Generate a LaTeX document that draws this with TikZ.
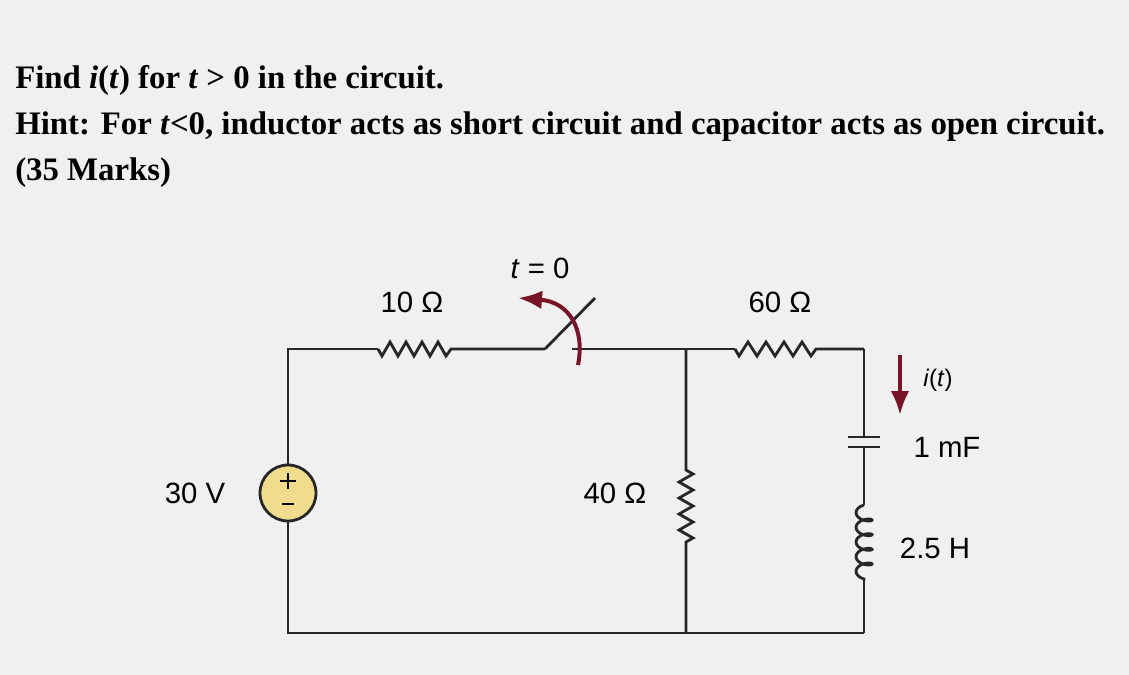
\documentclass[tikz,border=0pt]{standalone}
\usepackage{fontspec}
\setmainfont{Liberation Serif}
\setsansfont{Liberation Sans}
\usetikzlibrary{decorations.pathmorphing,arrows.meta}
\begin{document}
\begin{tikzpicture}[x=0.75pt,y=-0.75pt,
  wire/.style={line width=2.1pt,black!85},
  lbl/.style={font=\sffamily\fontsize{22}{24}\selectfont,inner sep=0pt},
  txt/.style={font=\fontsize{24.6}{28}\selectfont,anchor=west,inner sep=0pt},
  red arrow/.style={line width=3pt,color={rgb,255:red,120;green,20;blue,40},-{Latex[length=18pt,width=14pt]}}]
\fill[gray!12] (0,0) rectangle (1129,675);
\useasboundingbox (0,0) rectangle (1129,675);
\node[txt] (l1) at (15,80) {\textbf{Find} \textbf{\textit{i}(\textit{t}) for \textit{t} > 0 in the circuit.}};
\node[txt] (l2) at (15,127) {\textbf{Hint: For \textit{t}<0, inductor acts as short circuit and capacitor acts as open circuit.}};
\node[txt] (l3) at (15,173) {\textbf{(35 Marks)}};
\coordinate (tl) at (288,349);
\coordinate (bl) at (288,633);
\coordinate (r1a) at (378,349);
\coordinate (r1b) at (455,349);
\coordinate (swa) at (545,349);
\coordinate (swb) at (572,349);
\coordinate (nd) at (686,349);
\coordinate (r2a) at (735,349);
\coordinate (r2b) at (825,349);
\coordinate (tr) at (864,349);
\coordinate (br) at (864,633);
\coordinate (bm) at (686,633);
\node[circle,draw=black!85,line width=2.1pt,fill={rgb,255:red,240;green,220;blue,140},minimum size=42pt,inner sep=0pt] (src) at (288,493) {};
\draw[line width=1.8pt] (280,481) -- (296,481) (288,473) -- (288,489) (282,504) -- (294,504);
\draw[wire] (src.north) -- (tl) -- (r1a);
\draw[wire] (src.south) -- (bl) -- (br);
\draw[wire] (r1a) -- ++(4,7) -- ++(8,-14) -- ++(8,14) -- ++(8,-14) -- ++(8,14) -- ++(8,-14) -- ++(8,14) -- ++(8,-14) -- ++(8,14) -- ++(5,-7) -- (r1b) -- (swa);
\draw[wire] (swa) -- (595,298);
\draw[wire] (swb) -- (nd) -- (r2a);
\draw[wire] (r2a) -- ++(4,7) -- ++(9,-14) -- ++(9,14) -- ++(9,-14) -- ++(9,14) -- ++(9,-14) -- ++(9,14) -- ++(9,-14) -- ++(9,14) -- ++(5,-7) -- (r2b) -- (tr);
\draw[red arrow] (578,365) .. controls (585,330) and (570,302) .. (518,298);
\node[lbl] (t0) at (540,268) {\textit{t} = 0};
\node[lbl] (r1l) at (412,302) {10 Ω};
\node[lbl] (r2l) at (780,302) {60 Ω};
\draw[wire] (nd) -- (686,470) -- ++(7,4) -- ++(-14,8) -- ++(14,8) -- ++(-14,8) -- ++(14,8) -- ++(-14,8) -- ++(14,8) -- ++(-14,8) -- ++(14,8) -- ++(-7,4) -- (bm);
\node[lbl] (r3l) at (615,493) {40 Ω};
\draw[wire] (tr) -- (864,437);
\draw[wire] (848,437) -- (880,437) (848,447) -- (880,447);
\draw[wire] (864,447) -- (864,505);
\draw[wire,decorate,decoration={coil,aspect=0.5,segment length=11pt,amplitude=6pt,mirror}] (864,505) -- (864,580);
\draw[wire] (864,580) -- (br);
\draw[red arrow] (900,355) -- (900,415);
\node[lbl] (il) at (938,380) {\fontsize{18}{20}\selectfont\textit{i}(\textit{t})};
\node[lbl] (cl) at (947,447) {1 mF};
\node[lbl] (ll) at (935,548) {2.5 H};
\node[lbl] (vl) at (195,493) {30 V};
\end{tikzpicture}
\end{document}
